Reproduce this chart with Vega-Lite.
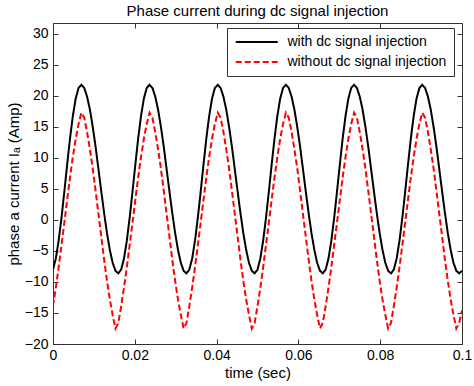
{
"$schema": "https://vega.github.io/schema/vega-lite/v6.json",
"width": 409, "height": 321,
"autosize": "none",
"padding": {"left": 53, "top": 23, "right": 12, "bottom": 42},
"background": "white",
"config": {"font": "Liberation Sans", "view": {"stroke": null}},
"title": {"text": "Phase current during dc signal injection", "fontSize": 15, "fontWeight": "normal", "font": "Liberation Sans", "color": "#000", "anchor": "middle", "offset": 4},
"data": {"values": [
{"t":0,"a":-8.0,"b":-13.9},{"t":0.000694,"a":-6.2,"b":-10.9},{"t":0.001389,"a":-3.3,"b":-7.6},{"t":0.002083,"a":0.4,"b":-4.0},{"t":0.002778,"a":4.6,"b":-0.4},{"t":0.003472,"a":9.0,"b":3.3},{"t":0.004167,"a":13.2,"b":6.9},{"t":0.004861,"a":16.8,"b":10.2},{"t":0.005556,"a":19.6,"b":13.1},{"t":0.00625,"a":21.3,"b":15.5},{"t":0.006944,"a":21.8,"b":17.3},{"t":0.007639,"a":21.3,"b":16.5},{"t":0.008333,"a":19.9,"b":14.2},{"t":0.009028,"a":17.8,"b":11.4},{"t":0.009722,"a":15.0,"b":8.3},{"t":0.010417,"a":11.8,"b":4.7},{"t":0.011111,"a":8.2,"b":1.0},{"t":0.011806,"a":4.6,"b":-2.7},{"t":0.0125,"a":1.1,"b":-6.4},{"t":0.013194,"a":-2.1,"b":-9.8},{"t":0.013889,"a":-4.8,"b":-12.8},{"t":0.014583,"a":-6.9,"b":-15.3},{"t":0.015278,"a":-8.2,"b":-17.5},{"t":0.015972,"a":-8.6,"b":-16.6},
{"t":0.016667,"a":-8.0,"b":-13.9},{"t":0.017361,"a":-6.2,"b":-10.9},{"t":0.018056,"a":-3.3,"b":-7.6},{"t":0.01875,"a":0.4,"b":-4.0},{"t":0.019444,"a":4.6,"b":-0.4},{"t":0.020139,"a":9.0,"b":3.3},{"t":0.020833,"a":13.2,"b":6.9},{"t":0.021528,"a":16.8,"b":10.2},{"t":0.022222,"a":19.6,"b":13.1},{"t":0.022917,"a":21.3,"b":15.5},{"t":0.023611,"a":21.8,"b":17.3},{"t":0.024306,"a":21.3,"b":16.5},{"t":0.025,"a":19.9,"b":14.2},{"t":0.025694,"a":17.8,"b":11.4},{"t":0.026389,"a":15.0,"b":8.3},{"t":0.027083,"a":11.8,"b":4.7},{"t":0.027778,"a":8.2,"b":1.0},{"t":0.028472,"a":4.6,"b":-2.7},{"t":0.029167,"a":1.1,"b":-6.4},{"t":0.029861,"a":-2.1,"b":-9.8},{"t":0.030556,"a":-4.8,"b":-12.8},{"t":0.03125,"a":-6.9,"b":-15.3},{"t":0.031944,"a":-8.2,"b":-17.5},{"t":0.032639,"a":-8.6,"b":-16.6},
{"t":0.033333,"a":-8.0,"b":-13.9},{"t":0.034028,"a":-6.2,"b":-10.9},{"t":0.034722,"a":-3.3,"b":-7.6},{"t":0.035417,"a":0.4,"b":-4.0},{"t":0.036111,"a":4.6,"b":-0.4},{"t":0.036806,"a":9.0,"b":3.3},{"t":0.0375,"a":13.2,"b":6.9},{"t":0.038194,"a":16.8,"b":10.2},{"t":0.038889,"a":19.6,"b":13.1},{"t":0.039583,"a":21.3,"b":15.5},{"t":0.040278,"a":21.8,"b":17.3},{"t":0.040972,"a":21.3,"b":16.5},{"t":0.041667,"a":19.9,"b":14.2},{"t":0.042361,"a":17.8,"b":11.4},{"t":0.043056,"a":15.0,"b":8.3},{"t":0.04375,"a":11.8,"b":4.7},{"t":0.044444,"a":8.2,"b":1.0},{"t":0.045139,"a":4.6,"b":-2.7},{"t":0.045833,"a":1.1,"b":-6.4},{"t":0.046528,"a":-2.1,"b":-9.8},{"t":0.047222,"a":-4.8,"b":-12.8},{"t":0.047917,"a":-6.9,"b":-15.3},{"t":0.048611,"a":-8.2,"b":-17.5},{"t":0.049306,"a":-8.6,"b":-16.6},
{"t":0.05,"a":-8.0,"b":-13.9},{"t":0.050694,"a":-6.2,"b":-10.9},{"t":0.051389,"a":-3.3,"b":-7.6},{"t":0.052083,"a":0.4,"b":-4.0},{"t":0.052778,"a":4.6,"b":-0.4},{"t":0.053472,"a":9.0,"b":3.3},{"t":0.054167,"a":13.2,"b":6.9},{"t":0.054861,"a":16.8,"b":10.2},{"t":0.055556,"a":19.6,"b":13.1},{"t":0.05625,"a":21.3,"b":15.5},{"t":0.056944,"a":21.8,"b":17.3},{"t":0.057639,"a":21.3,"b":16.5},{"t":0.058333,"a":19.9,"b":14.2},{"t":0.059028,"a":17.8,"b":11.4},{"t":0.059722,"a":15.0,"b":8.3},{"t":0.060417,"a":11.8,"b":4.7},{"t":0.061111,"a":8.2,"b":1.0},{"t":0.061806,"a":4.6,"b":-2.7},{"t":0.0625,"a":1.1,"b":-6.4},{"t":0.063194,"a":-2.1,"b":-9.8},{"t":0.063889,"a":-4.8,"b":-12.8},{"t":0.064583,"a":-6.9,"b":-15.3},{"t":0.065278,"a":-8.2,"b":-17.5},{"t":0.065972,"a":-8.6,"b":-16.6},
{"t":0.066667,"a":-8.0,"b":-13.9},{"t":0.067361,"a":-6.2,"b":-10.9},{"t":0.068056,"a":-3.3,"b":-7.6},{"t":0.06875,"a":0.4,"b":-4.0},{"t":0.069444,"a":4.6,"b":-0.4},{"t":0.070139,"a":9.0,"b":3.3},{"t":0.070833,"a":13.2,"b":6.9},{"t":0.071528,"a":16.8,"b":10.2},{"t":0.072222,"a":19.6,"b":13.1},{"t":0.072917,"a":21.3,"b":15.5},{"t":0.073611,"a":21.8,"b":17.3},{"t":0.074306,"a":21.3,"b":16.5},{"t":0.075,"a":19.9,"b":14.2},{"t":0.075694,"a":17.8,"b":11.4},{"t":0.076389,"a":15.0,"b":8.3},{"t":0.077083,"a":11.8,"b":4.7},{"t":0.077778,"a":8.2,"b":1.0},{"t":0.078472,"a":4.6,"b":-2.7},{"t":0.079167,"a":1.1,"b":-6.4},{"t":0.079861,"a":-2.1,"b":-9.8},{"t":0.080556,"a":-4.8,"b":-12.8},{"t":0.08125,"a":-6.9,"b":-15.3},{"t":0.081944,"a":-8.2,"b":-17.5},{"t":0.082639,"a":-8.6,"b":-16.6},
{"t":0.083333,"a":-8.0,"b":-13.9},{"t":0.084028,"a":-6.2,"b":-10.9},{"t":0.084722,"a":-3.3,"b":-7.6},{"t":0.085417,"a":0.4,"b":-4.0},{"t":0.086111,"a":4.6,"b":-0.4},{"t":0.086806,"a":9.0,"b":3.3},{"t":0.0875,"a":13.2,"b":6.9},{"t":0.088194,"a":16.8,"b":10.2},{"t":0.088889,"a":19.6,"b":13.1},{"t":0.089583,"a":21.3,"b":15.5},{"t":0.090278,"a":21.8,"b":17.3},{"t":0.090972,"a":21.3,"b":16.5},{"t":0.091667,"a":19.9,"b":14.2},{"t":0.092361,"a":17.8,"b":11.4},{"t":0.093056,"a":15.0,"b":8.3},{"t":0.09375,"a":11.8,"b":4.7},{"t":0.094444,"a":8.2,"b":1.0},{"t":0.095139,"a":4.6,"b":-2.7},{"t":0.095833,"a":1.1,"b":-6.4},{"t":0.096528,"a":-2.1,"b":-9.8},{"t":0.097222,"a":-4.8,"b":-12.8},{"t":0.097917,"a":-6.9,"b":-15.3},{"t":0.098611,"a":-8.2,"b":-17.5},{"t":0.099306,"a":-8.6,"b":-16.6},
{"t":0.1,"a":-8.2,"b":-14.6}
]},
"transform": [{"fold": ["a", "b"], "as": ["series", "value"]}],
"layer": [
{"mark": {"type": "line", "strokeWidth": 2, "clip": true},
 "encoding": {
  "x": {"field": "t", "type": "quantitative", "scale": {"domain": [0, 0.1], "nice": false},
        "axis": {"orient": "bottom", "title": "time (sec)", "values": [0, 0.02, 0.04, 0.06, 0.08, 0.1], "format": ".2~f", "tickSize": -5, "labelPadding": 9, "labelFlush": false, "grid": false, "domainColor": "#333", "tickColor": "#333", "labelFontSize": 14, "labelColor": "#000", "titleFontSize": 15, "titleFontWeight": "normal", "titleColor": "#000", "titlePadding": 3}},
  "y": {"field": "value", "type": "quantitative", "scale": {"domain": [-20, 31.77], "nice": false, "zero": false},
        "axis": {"orient": "left", "title": "phase a current Iₐ (Amp)", "values": [-20, -15, -10, -5, 0, 5, 10, 15, 20, 25, 30], "tickSize": -5, "labelPadding": 10, "labelFlush": false, "grid": false, "domainColor": "#333", "tickColor": "#333", "labelFontSize": 14, "labelColor": "#000", "titleFontSize": 15, "titleFontWeight": "normal", "titleColor": "#000", "titlePadding": 3}},
  "color": {"field": "series", "type": "nominal", "scale": {"domain": ["a", "b"], "range": ["#000000", "#ff0000"]},
            "legend": {"orient": "none", "legendX": 174, "legendY": 5, "title": null, "labelExpr": "datum.value == 'a' ? 'with dc signal injection' : 'without dc signal injection'", "symbolType": "M-1,0H7", "symbolSize": 110, "symbolStrokeWidth": 2, "labelFontSize": 14, "labelFont": "Liberation Sans", "labelColor": "#000", "strokeColor": "#333", "fillColor": "#fff", "padding": 7, "rowPadding": 6, "labelOffset": 39.5}},
  "strokeDash": {"field": "series", "type": "nominal", "scale": {"domain": ["a", "b"], "range": [[1, 0], [6, 3]]},
            "legend": {"orient": "none", "legendX": 174, "legendY": 5, "title": null, "labelExpr": "datum.value == 'a' ? 'with dc signal injection' : 'without dc signal injection'", "symbolType": "M-1,0H7", "symbolSize": 110, "symbolStrokeWidth": 2, "labelFontSize": 14, "labelFont": "Liberation Sans", "labelColor": "#000", "strokeColor": "#333", "fillColor": "#fff", "padding": 7, "rowPadding": 6, "labelOffset": 39.5}}
 }},
{"mark": {"type": "line", "strokeOpacity": 0},
 "encoding": {
  "x": {"field": "t", "type": "quantitative", "scale": {"domain": [0, 0.1], "nice": false},
        "axis": {"orient": "top", "title": null, "labels": false, "values": [0, 0.02, 0.04, 0.06, 0.08, 0.1], "tickSize": -5, "grid": false, "domainColor": "#333", "tickColor": "#333"}},
  "y": {"field": "value", "type": "quantitative", "scale": {"domain": [-20, 31.77], "nice": false, "zero": false},
        "axis": {"orient": "right", "title": null, "labels": false, "values": [-20, -15, -10, -5, 0, 5, 10, 15, 20, 25, 30], "tickSize": -5, "grid": false, "domainColor": "#333", "tickColor": "#333"}},
  "detail": {"field": "series", "type": "nominal"}
 }}
],
"resolve": {"axis": {"x": "independent", "y": "independent"}}
}
